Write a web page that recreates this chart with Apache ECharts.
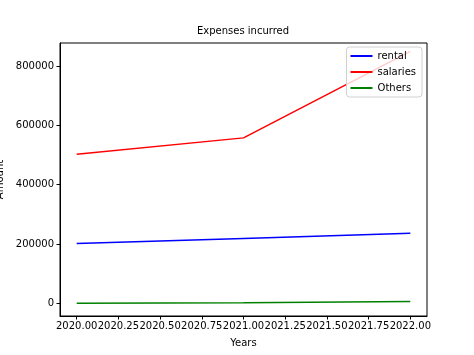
<!DOCTYPE html>
<html><head><meta charset="utf-8">
<script src="https://cdn.jsdelivr.net/npm/echarts@6/dist/echarts.min.js"></script>
<style>html,body{margin:0;padding:0;background:#fff}#c{width:474px;height:355px}</style>
</head><body><div id="c"></div>
<script>
const years = [2020, 2021, 2022];
const rental = [202000, 219000, 236000];
const salaries = [503000, 558000, 850000];
const others = [0, 2000, 6500];
const xTicks = [2020, 2020.25, 2020.5, 2020.75, 2021, 2021.25, 2021.5, 2021.75, 2022];
const yTicks = [0, 200000, 400000, 600000, 800000];

const font = 'DejaVu Sans';
const chart = echarts.init(document.getElementById('c'), null, {renderer: 'canvas'});
const mk = (name, vals, color) => ({
  name, type: 'line', data: years.map((y, i) => [y, vals[i]]),
  showSymbol: false, symbol: 'none', lineStyle: {color, width: 1.5}, itemStyle: {color},
  animation: false
});
chart.setOption({
  animation: false,
  title: {text: 'Expenses incurred', left: 243, top: 26, textAlign: 'center', padding: 0,
    textStyle: {fontFamily: font, fontSize: 10, fontWeight: 'normal', color: '#000'}},
  grid: {left: 60, right: 47, top: 43, bottom: 39, show: true, borderColor: '#000', borderWidth: 1,
    containLabel: false, outerBoundsMode: 'none'},
  legend: {right: 52, top: 47, orient: 'vertical', itemWidth: 22, itemHeight: 2, itemGap: 6,
    backgroundColor: 'rgba(255,255,255,0.8)', borderColor: '#d0d0d0', borderWidth: 1, borderRadius: 3,
    padding: [4, 6, 4, 4], icon: 'rect',
    textStyle: {fontFamily: font, fontSize: 10, color: '#000'},
    data: ['rental', 'salaries', 'Others']},
  xAxis: {type: 'value', min: 2019.9, max: 2022.1, name: 'Years', nameLocation: 'middle', nameGap: 22,
    nameTextStyle: {fontFamily: font, fontSize: 10, color: '#000'},
    axisLine: {show: true, onZero: false, lineStyle: {color: '#000'}},
    axisTick: {show: true, length: 3.5, customValues: xTicks, lineStyle: {color: '#000'}},
    axisLabel: {customValues: xTicks, interval: 0, fontFamily: font, fontSize: 10, color: '#000', margin: 5,
      formatter: v => Number(v).toFixed(2), showMinLabel: true, showMaxLabel: true, hideOverlap: false},
    splitLine: {show: false}},
  yAxis: {type: 'value', min: -42800, max: 878000, name: 'Amount', nameLocation: 'middle', nameGap: 50,
    nameTextStyle: {fontFamily: font, fontSize: 10, color: '#000'},
    axisLine: {show: true, onZero: false, lineStyle: {color: '#000'}},
    axisTick: {show: true, length: 3.5, customValues: yTicks, lineStyle: {color: '#000'}},
    axisLabel: {customValues: yTicks, fontFamily: font, fontSize: 10, color: '#000', margin: 6,
      formatter: v => String(v)},
    splitLine: {show: false}},
  series: [mk('rental', rental, '#0000ff'), mk('salaries', salaries, '#ff0000'), mk('Others', others, '#008000')]
});
</script></body></html>
